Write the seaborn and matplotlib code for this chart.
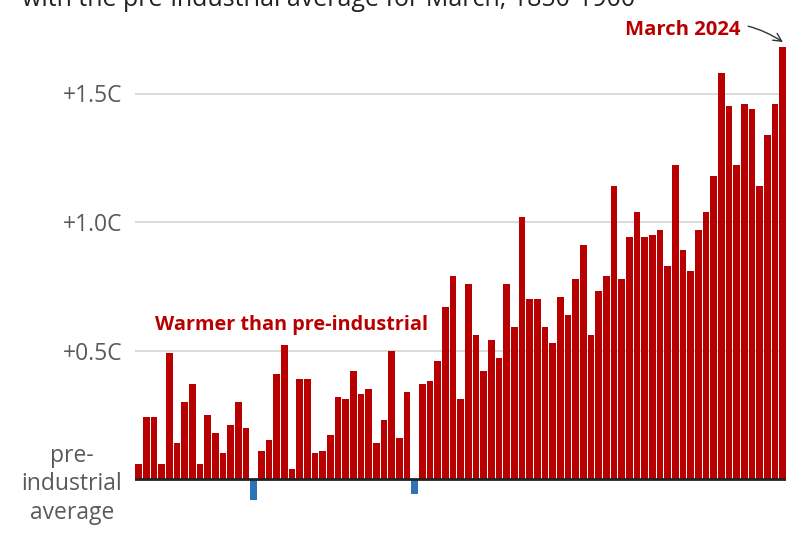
import seaborn as sns
import pandas as pd
import matplotlib.pyplot as plt

# March global temperature vs pre-industrial (1850-1900) average, degC
years = list(range(1940, 2025))
anomaly = [
    0.06, 0.24, 0.24, 0.06, 0.49, 0.14, 0.30, 0.37, 0.06, 0.25,
    0.18, 0.10, 0.21, 0.30, 0.20, -0.08, 0.11, 0.15, 0.41, 0.52,
    0.04, 0.39, 0.39, 0.10, 0.11, 0.17, 0.32, 0.31, 0.42, 0.33,
    0.35, 0.14, 0.23, 0.50, 0.16, 0.34, -0.06, 0.37, 0.38, 0.46,
    0.67, 0.79, 0.31, 0.76, 0.56, 0.42, 0.54, 0.47, 0.76, 0.59,
    1.02, 0.70, 0.70, 0.59, 0.53, 0.71, 0.64, 0.78, 0.91, 0.56,
    0.73, 0.79, 1.14, 0.78, 0.94, 1.04, 0.94, 0.95, 0.97, 0.83,
    1.22, 0.89, 0.81, 0.97, 1.04, 1.18, 1.58, 1.45, 1.22, 1.46,
    1.44, 1.14, 1.34, 1.46, 1.68,
]
tick_values = [0, 0.5, 1.0, 1.5]
tick_labels = ["pre-\nindustrial\naverage", "+0.5C", "+1.0C", "+1.5C"]

RED = "#b80000"
BLUE = "#2e73b6"
GREY = "#5a5a5a"

df = pd.DataFrame({"year": years, "anomaly": anomaly})
df["side"] = ["warm" if v >= 0 else "cool" for v in df["anomaly"]]

plt.rcParams["font.family"] = ["Open Sans", "DejaVu Sans"]

fig = plt.figure(figsize=(8, 5.33), dpi=100)
ax = fig.add_axes([0.1684, 15.45 / 533, 0.8146, 488.3 / 533])

for v in tick_values[1:]:
    ax.axhline(v, color="#d4d4d4", lw=1.2, zorder=0)

sns.barplot(data=df, x="year", y="anomaly", hue="side",
            palette={"warm": RED, "cool": BLUE}, dodge=False,
            width=0.87, saturation=1, legend=False, ax=ax, zorder=2,
            linewidth=0)

ax.axhline(0, color="#222222", lw=2, zorder=3)

ax.set_xlim(-0.5, len(years) - 0.5)
ax.set_ylim(-0.15, 1.75)
for s in ax.spines.values():
    s.set_visible(False)
ax.set_xticks([])
ax.set_xlabel("")
ax.set_ylabel("")
ax.set_yticks(tick_values)
ax.set_yticklabels(tick_labels)
ax.tick_params(axis="y", length=0, pad=9, labelsize=16.5, labelcolor=GREY)
ax.get_yticklabels()[0].set_multialignment("center")
ax.get_yticklabels()[0].set_linespacing(1.25)

ax.text(2.15, 0.60, "Warmer than pre-industrial", color=RED,
        fontsize=14.3, fontweight="bold", ha="left", va="center")

ax.annotate("March 2024", xy=(84.05, 1.70), xytext=(78.45, 1.747),
            textcoords="data", ha="right", va="center",
            color=RED, fontsize=14.6, fontweight="bold",
            annotation_clip=False,
            arrowprops=dict(arrowstyle="->", color="#333333", lw=1,
                            connectionstyle="arc3,rad=-0.25",
                            shrinkA=4, shrinkB=0))

fig.text(22 / 800, 1 - 6 / 533,
         "with the pre-industrial average for March, 1850-1900",
         fontsize=18, color="#222222", ha="left", va="baseline")

fig.savefig("out.png", dpi=100)
